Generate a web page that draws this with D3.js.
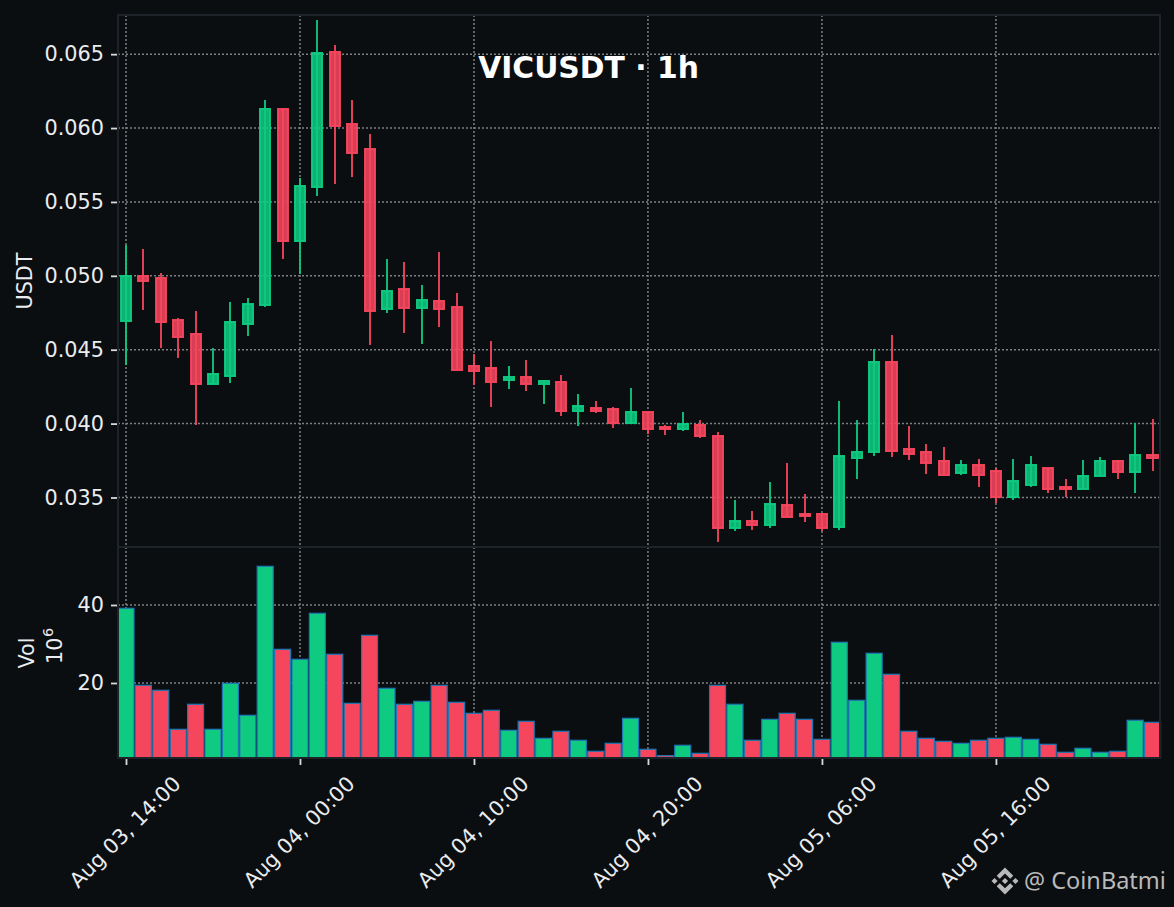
<!DOCTYPE html>
<html lang="en">
  <head>
    <meta charset="UTF-8" />
    <title>VICUSDT 1h</title>
    <script src="https://d3js.org/d3.v7.min.js"></script>
    <style>
      body {
        margin: 0;
        background: #0b0e11;
      }

      svg {
        display: block;
        font-family: "DejaVu Sans", sans-serif;
      }

      .grid line {
        stroke: #7d7f82;
        stroke-width: 1.5;
        stroke-dasharray: 2 2;
      }

      .axis path {
        display: none;
      }

      .axis line {
        stroke: #d8d9da;
        stroke-width: 1.8;
      }

      .axis text {
        fill: #eaecef;
        font-family: "DejaVu Sans", sans-serif;
        font-size: 20.8px;
      }
    </style>
  </head>
  <body>
    <svg id="chart" width="1174" height="907"></svg>

    <script>
      const opens = [
        0.04696, 0.05002, 0.04983, 0.04699, 0.04604, 0.0427, 0.04324, 0.04676, 0.04804, 0.06127,
        0.05238, 0.05603, 0.06512, 0.06025, 0.05856, 0.04777, 0.04909, 0.04784, 0.04827, 0.04787,
        0.04388, 0.04374, 0.04295, 0.04313, 0.0427, 0.04279, 0.04087, 0.04106, 0.04097, 0.04004,
        0.04076, 0.03979, 0.03963, 0.03989, 0.03914, 0.03296, 0.03339, 0.03316, 0.03447, 0.0339,
        0.03386, 0.03298, 0.03769, 0.0381, 0.04415, 0.03826, 0.03806, 0.03745, 0.03668, 0.03718,
        0.03677, 0.03501, 0.03587, 0.03698, 0.03569, 0.0356, 0.03647, 0.03745, 0.03675, 0.03788,
      ];
      const highs = [
        0.05208, 0.05181, 0.05017, 0.04714, 0.04762, 0.04512, 0.04823, 0.0485, 0.06189, 0.06127,
        0.05662, 0.06731, 0.06562, 0.06189, 0.05959, 0.05114, 0.05093, 0.04938, 0.05161, 0.04884,
        0.04471, 0.04559, 0.0439, 0.0443, 0.04286, 0.04329, 0.042, 0.04153, 0.04112, 0.04241,
        0.04076, 0.03991, 0.04078, 0.04024, 0.03943, 0.03483, 0.03409, 0.03605, 0.03733, 0.03524,
        0.03395, 0.04153, 0.04024, 0.04503, 0.04599, 0.03984, 0.03862, 0.03842, 0.03754, 0.0376,
        0.037, 0.0376, 0.03781, 0.03698, 0.03625, 0.03754, 0.03774, 0.03754, 0.04004, 0.04031,
      ];
      const lows = [
        0.04396, 0.04769, 0.04514, 0.04446, 0.03991, 0.04261, 0.04275, 0.04593, 0.04789, 0.05114,
        0.05012, 0.0554, 0.05621, 0.05668, 0.04532, 0.04748, 0.04613, 0.04539, 0.04654, 0.04365,
        0.04261, 0.04112, 0.04234, 0.04221, 0.04133, 0.04051, 0.03984, 0.04072, 0.0397, 0.04004,
        0.0393, 0.03923, 0.0395, 0.03903, 0.03199, 0.03273, 0.0328, 0.03294, 0.0337, 0.03334,
        0.03273, 0.0328, 0.03625, 0.03781, 0.03774, 0.03754, 0.03659, 0.03654, 0.03652, 0.03571,
        0.03465, 0.03483, 0.03571, 0.0353, 0.03503, 0.0356, 0.03647, 0.03625, 0.0353, 0.03679,
      ];
      const closes = [
        0.05002, 0.04967, 0.04689, 0.04588, 0.0427, 0.04334, 0.04685, 0.04807, 0.06127, 0.05238,
        0.05606, 0.06505, 0.06016, 0.05833, 0.04764, 0.04895, 0.04784, 0.04834, 0.04777, 0.04365,
        0.04358, 0.04284, 0.04315, 0.0427, 0.04286, 0.04087, 0.04117, 0.04087, 0.04004, 0.04076,
        0.03965, 0.03963, 0.03995, 0.03918, 0.03296, 0.03339, 0.03314, 0.03454, 0.0337, 0.03375,
        0.03296, 0.03779, 0.03806, 0.04415, 0.03817, 0.03796, 0.03735, 0.03654, 0.03718, 0.03654,
        0.03501, 0.0361, 0.03718, 0.0356, 0.0356, 0.03643, 0.03745, 0.03675, 0.03786, 0.03769,
      ];
      // volume in millions
      const volumes = [
        39.15, 19.41, 18.13, 8.13, 14.54, 8.13, 19.92, 11.72, 49.92, 28.64,
        26.08, 37.87, 27.36, 14.79, 32.23, 18.64, 14.54, 15.31, 19.41, 15.05,
        12.23, 13.0, 7.87, 10.18, 5.82, 7.62, 5.31, 2.49, 4.54, 10.95,
        3.0, 1.36, 4.03, 1.97, 19.41, 14.54, 5.31, 10.69, 12.23, 10.69,
        5.56, 30.44, 15.56, 27.62, 22.23, 7.62, 5.82, 5.05, 4.54, 5.31,
        5.82, 6.08, 5.56, 4.28, 2.23, 3.26, 2.23, 2.49, 10.44, 9.92,
      ];
      const xTickIndex = [0, 10, 20, 30, 40, 50];
      const xTickLabels = [
        "Aug 03, 14:00",
        "Aug 04, 00:00",
        "Aug 04, 10:00",
        "Aug 04, 20:00",
        "Aug 05, 06:00",
        "Aug 05, 16:00",
      ];
      const priceTicks = [0.035, 0.04, 0.045, 0.05, 0.055, 0.06, 0.065];
      const volTicks = [20, 40];

      const GREEN = "#0ecb81";
      const RED = "#f6465d";
      const plotLeft = 118;
      const plotRight = 1160;
      const plotTop = 15;
      const plotSplit = 547;
      const plotBottom = 758;

      const svg = d3.select("#chart");

      const x = d3.scaleLinear().domain([-0.46, 59.43]).range([plotLeft, plotRight]);
      const yPrice = d3.scaleLinear().domain([0.03165, 0.06765]).range([plotSplit, plotTop]);
      const yVol = d3.scaleLinear().domain([0.77, 54.87]).range([plotBottom, plotSplit]);
      const step = x(1) - x(0);

      // grid
      const gridV = svg.append("g").attr("class", "grid");
      gridV
        .selectAll("line")
        .data(xTickIndex)
        .join("line")
        .attr("x1", (d) => x(d))
        .attr("x2", (d) => x(d))
        .attr("y1", plotTop)
        .attr("y2", plotBottom);
      const gridP = svg.append("g").attr("class", "grid");
      gridP
        .selectAll("line")
        .data(priceTicks)
        .join("line")
        .attr("x1", plotLeft)
        .attr("x2", plotRight)
        .attr("y1", (d) => yPrice(d))
        .attr("y2", (d) => yPrice(d));
      const gridVol = svg.append("g").attr("class", "grid");
      gridVol
        .selectAll("line")
        .data(volTicks)
        .join("line")
        .attr("x1", plotLeft)
        .attr("x2", plotRight)
        .attr("y1", (d) => yVol(d))
        .attr("y2", (d) => yVol(d));

      // candles
      const candles = svg
        .append("g")
        .selectAll("g")
        .data(d3.range(opens.length))
        .join("g")
        .attr("shape-rendering", "crispEdges");
      const colorOf = (i) => (closes[i] >= opens[i] ? GREEN : RED);
      candles
        .append("line")
        .attr("x1", (i) => x(i))
        .attr("x2", (i) => x(i))
        .attr("y1", (i) => yPrice(highs[i]))
        .attr("y2", (i) => yPrice(lows[i]))
        .attr("stroke", colorOf)
        .attr("stroke-opacity", 0.9)
        .attr("stroke-width", 2);
      candles
        .append("rect")
        .attr("x", (i) => x(i) - step * 0.29)
        .attr("width", step * 0.58)
        .attr("y", (i) => yPrice(Math.max(opens[i], closes[i])))
        .attr("height", (i) => Math.abs(yPrice(opens[i]) - yPrice(closes[i])))
        .attr("fill", colorOf)
        .attr("fill-opacity", 0.88)
        .attr("stroke", colorOf)
        .attr("stroke-opacity", 0.95)
        .attr("stroke-width", 2);

      // volume bars
      svg
        .append("g")
        .selectAll("rect")
        .data(d3.range(volumes.length))
        .join("rect")
        .attr("x", (i) => x(i) - step * 0.46)
        .attr("width", step * 0.92)
        .attr("y", (i) => yVol(volumes[i]))
        .attr("height", (i) => plotBottom - yVol(volumes[i]))
        .attr("fill", colorOf)
        .attr("stroke", "#1f77b4")
        .attr("stroke-width", 1.2);

      // axes
      svg
        .append("g")
        .attr("class", "axis")
        .attr("transform", `translate(${plotLeft},0)`)
        .call(d3.axisLeft(yPrice).tickValues(priceTicks).tickFormat(d3.format(".3f")).tickSize(7).tickPadding(7));
      svg
        .append("g")
        .attr("class", "axis")
        .attr("transform", `translate(${plotLeft},0)`)
        .call(d3.axisLeft(yVol).tickValues(volTicks).tickSize(7).tickPadding(7));
      const xAxis = svg
        .append("g")
        .attr("class", "axis")
        .attr("transform", `translate(0,${plotBottom})`)
        .call(
          d3
            .axisBottom(x)
            .tickValues(xTickIndex)
            .tickFormat((d) => xTickLabels[xTickIndex.indexOf(d)])
            .tickSize(7)
        );
      xAxis
        .selectAll("text")
        .attr("y", 0)
        .attr("dy", "0.35em")
        .attr("text-anchor", "middle")
        .attr("transform", "translate(-1.5,74) rotate(-45)");

      // panel frames
      svg
        .append("g")
        .selectAll("rect")
        .data([
          [plotTop, plotSplit],
          [plotSplit, plotBottom],
        ])
        .join("rect")
        .attr("x", plotLeft)
        .attr("y", (d) => d[0])
        .attr("width", plotRight - plotLeft)
        .attr("height", (d) => d[1] - d[0])
        .attr("fill", "none")
        .attr("stroke", "#1e2329")
        .attr("stroke-width", 2)
        .attr("shape-rendering", "crispEdges");

      // labels
      const labels = svg.append("g").attr("fill", "#eaecef").attr("font-size", 20.8);
      labels
        .append("text")
        .attr("transform", "translate(32,281) rotate(-90)")
        .attr("text-anchor", "middle")
        .text("USDT");
      labels
        .append("text")
        .attr("transform", "translate(34,653) rotate(-90)")
        .attr("text-anchor", "middle")
        .text("Vol");
      labels
        .append("text")
        .attr("transform", "translate(62,664) rotate(-90)")
        .text("10");
      labels
        .append("text")
        .attr("transform", "translate(53,637) rotate(-90)")
        .attr("font-size", 14.5)
        .text("6");

      svg
        .append("text")
        .attr("x", 588.5)
        .attr("y", 78)
        .attr("text-anchor", "middle")
        .attr("fill", "#ffffff")
        .attr("font-size", 29.8)
        .attr("font-weight", "bold")
        .text("VICUSDT · 1h");

      // watermark
      svg
        .append("path")
        .attr("transform", "translate(991.5,867.5) scale(0.213)")
        .attr("fill", "#b9b9b9")
        .attr(
          "d",
          "M38.73 53.2L63.3 28.63l24.59 24.58 14.3-14.3L63.3 0 24.43 38.9z M0 63.3l14.3-14.3 14.3 14.3-14.3 14.3z M38.73 73.41L63.3 97.98l24.59-24.58 14.3 14.3-38.89 38.9-38.87-38.86z M97.99 63.31l14.3-14.3 14.3 14.3-14.3 14.3z M77.83 63.29L63.3 48.76 52.55 59.5l-1.24 1.24-2.54 2.54 14.53 14.54 14.53-14.53z"
        );
      svg
        .append("text")
        .attr("x", 1024)
        .attr("y", 889)
        .attr("fill", "#b9b9b9")
        .attr("font-family", "'Noto Sans', sans-serif")
        .attr("font-size", 23.5)
        .text("@ CoinBatmi");
    </script>
  </body>
</html>
